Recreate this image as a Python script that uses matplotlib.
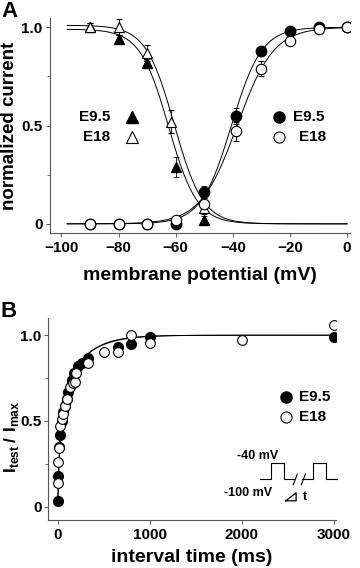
import numpy as np
import matplotlib
matplotlib.use('Agg')
import matplotlib.pyplot as plt

plt.rcParams['font.family'] = ['Liberation Sans', 'DejaVu Sans']
plt.rcParams['font.weight'] = 'bold'
plt.rcParams['mathtext.fontset'] = 'custom'
plt.rcParams['mathtext.rm'] = 'Liberation Sans'
plt.rcParams['mathtext.bf'] = 'Liberation Sans:bold'

# panel A: steady-state inactivation (triangles) and activation (circles)
inact_v_e95 = [-90, -80, -70, -60, -50]
inact_e95 = [1.0, 0.94, 0.82, 0.29, 0.02]
inact_err_e95 = [0.02, 0.02, 0.02, 0.05, 0.02]
inact_v_e18 = [-90, -80, -70, -61.5, -50]
inact_e18 = [1.0, 1.0, 0.87, 0.52, 0.08]
inact_err_e18 = [0.02, 0.04, 0.04, 0.06, 0.03]

act_v = [-90, -80, -70, -60, -50, -39, -30, -20, -10, 0]
act_e95 = [0.0, 0.0, 0.0, 0.0, 0.16, 0.55, 0.88, 0.98, 1.0, 1.0]
act_err_e95 = [0.01, 0.01, 0.01, 0.01, 0.03, 0.04, 0.02, 0.01, 0.01, 0.0]
act_e18 = [0.0, 0.0, 0.0, 0.02, 0.10, 0.47, 0.79, 0.93, 0.99, 1.0]
act_err_e18 = [0.01, 0.01, 0.01, 0.01, 0.03, 0.05, 0.04, 0.02, 0.01, 0.0]

# Boltzmann fit parameters: (amplitude, V1/2, slope)
fit_inact_e95 = (0.99, -62.5, 5.0)
fit_inact_e18 = (1.01, -60.5, 5.0)
fit_act_e95 = (1.0, -40.5, 5.3)
fit_act_e18 = (1.0, -38.5, 6.4)

# panel B: recovery from inactivation
rec_t_e95 = [0, 5, 15, 22, 40, 60, 76, 95, 113, 150, 180, 220, 260, 330, 650, 800, 1000, 3000]
rec_e95 = [0.03, 0.18, 0.35, 0.42, 0.50, 0.55, 0.59, 0.63, 0.67, 0.74, 0.78, 0.82, 0.84, 0.87, 0.93, 0.95, 0.99, 0.99]
rec_t_e18 = [0, 5, 10, 22, 40, 58, 80, 95, 130, 160, 185, 200, 330, 500, 650, 800, 1000, 2000, 3000]
rec_e18 = [0.14, 0.26, 0.34, 0.47, 0.51, 0.54, 0.59, 0.63, 0.70, 0.72, 0.73, 0.78, 0.84, 0.90, 0.90, 1.00, 0.955, 0.975, 1.06]

# double exponential fit parameters: (a1, tau1, a2, tau2)
fit_rec_e95 = (0.55, 30.0, 0.40, 250.0)
fit_rec_e18 = (0.50, 25.0, 0.45, 230.0)


def boltz(v, amp, vh, k, rising):
    s = 1 if rising else -1
    return amp / (1 + np.exp(-s * (v - vh) / k))


def recov(t, a1, t1, a2, t2):
    return 1 - a1 * np.exp(-t / t1) - a2 * np.exp(-t / t2)


fig = plt.figure(figsize=(3.6, 5.68), dpi=100)

# ---------- A ----------
ax = fig.add_axes([0.139, 0.590, 0.833, 0.378])
vv = np.linspace(-98, 0, 300)
for p in (fit_inact_e95, fit_inact_e18):
    ax.plot(vv, boltz(vv, *p, rising=False), color='black', lw=0.7, zorder=1)
for p in (fit_act_e95, fit_act_e18):
    ax.plot(vv, boltz(vv, *p, rising=True), color='black', lw=0.7, zorder=1)

ax.errorbar(inact_v_e95, inact_e95, yerr=inact_err_e95, fmt='^', ms=7.5, mfc='black', mec='black',
            ecolor='black', elinewidth=0.6, capsize=2, capthick=0.6, zorder=3)
ax.errorbar(inact_v_e18, inact_e18, yerr=inact_err_e18, fmt='^', ms=7.5, mfc='white', mec='black',
            mew=0.8, ecolor='black', elinewidth=0.6, capsize=2, capthick=0.6, zorder=4)
ax.errorbar(act_v, act_e95, yerr=act_err_e95, fmt='o', ms=7.5, mfc='black', mec='black',
            ecolor='black', elinewidth=0.6, capsize=2, capthick=0.6, zorder=3)
ax.errorbar(act_v, act_e18, yerr=act_err_e18, fmt='o', ms=7.5, mfc='white', mec='black',
            mew=0.8, ecolor='black', elinewidth=0.6, capsize=2, capthick=0.6, zorder=4)

ax.set_xlim(-104, 1)
ax.set_ylim(-0.046, 1.046)
ax.set_xticks([-100, -80, -60, -40, -20, 0])
ax.set_yticks([0, 0.5, 1.0])
ax.set_yticklabels(['0', '0.5', '1.0'])
ax.set_yticks([0.25, 0.75], minor=True)
ax.set_xlabel('membrane potential (mV)', fontsize=14, fontweight='bold', labelpad=9)
ax.set_ylabel('normalized current', fontsize=13.5, fontweight='bold', labelpad=2)

# in-plot legends
ax.text(0.20, 0.538, 'E9.5', transform=ax.transAxes, ha='right', va='center', fontsize=11, fontweight='bold')
ax.text(0.20, 0.445, 'E18', transform=ax.transAxes, ha='right', va='center', fontsize=11, fontweight='bold')
ax.plot([0.272], [0.538], '^', ms=8.5, mfc='black', mec='black', transform=ax.transAxes)
ax.plot([0.272], [0.445], '^', ms=8.5, mfc='white', mec='black', mew=0.8, transform=ax.transAxes)
ax.plot([0.764], [0.538], 'o', ms=8, mfc='black', mec='black', transform=ax.transAxes)
ax.plot([0.764], [0.445], 'o', ms=8, mfc='white', mec='black', mew=0.8, transform=ax.transAxes)
ax.text(0.81, 0.538, 'E9.5', transform=ax.transAxes, ha='left', va='center', fontsize=11, fontweight='bold')
ax.text(0.83, 0.445, 'E18', transform=ax.transAxes, ha='left', va='center', fontsize=11, fontweight='bold')

# ---------- B ----------
bx = fig.add_axes([0.133, 0.0845, 0.80, 0.3555])
tt = np.linspace(0, 3000, 1500)
for p in (fit_rec_e95, fit_rec_e18):
    bx.plot(tt, recov(tt, *p), color='black', lw=0.7, zorder=1)
bx.errorbar(rec_t_e95, rec_e95, yerr=0.02, fmt='o', ms=7, mfc='black', mec='black',
            ecolor='black', elinewidth=0.6, capsize=2, capthick=0.6, zorder=3)
bx.errorbar(rec_t_e18, rec_e18, yerr=0.02, fmt='o', ms=7, mfc='white', mec='black',
            mew=0.8, ecolor='black', elinewidth=0.6, capsize=2, capthick=0.6, zorder=4)

bx.set_xlim(-109, 3025)
bx.set_ylim(-0.078, 1.10)
bx.set_xticks([0, 1000, 2000, 3000])
bx.set_yticks([0, 0.5, 1.0])
bx.set_yticklabels(['0', '0.5', '1.0'])
bx.set_yticks([0.25, 0.75], minor=True)
bx.set_xlabel('interval time (ms)', fontsize=14, fontweight='bold', labelpad=5)
bx.set_ylabel(r'$\mathbf{I}_{\mathrm{test}}\,\mathbf{/\ I}_{\mathrm{max}}$', fontsize=12.5)
bx.yaxis.set_label_coords(-0.092, 0.41)

bx.plot([0.826], [0.607], 'o', ms=8, mfc='black', mec='black', transform=bx.transAxes)
bx.plot([0.826], [0.508], 'o', ms=8, mfc='white', mec='black', mew=0.8, transform=bx.transAxes)
bx.text(0.871, 0.607, 'E9.5', transform=bx.transAxes, ha='left', va='center', fontsize=11, fontweight='bold')
bx.text(0.871, 0.508, 'E18', transform=bx.transAxes, ha='left', va='center', fontsize=11, fontweight='bold')

# voltage protocol sketch
px = [0.736, 0.774, 0.774, 0.820, 0.820, 0.855]
py = [0.201, 0.201, 0.281, 0.281, 0.201, 0.201]
bx.plot(px, py, color='black', lw=0.8, transform=bx.transAxes, clip_on=False)
px2 = [0.884, 0.919, 0.919, 0.965, 0.965, 1.003]
bx.plot(px2, py, color='black', lw=0.8, transform=bx.transAxes, clip_on=False)
for x0 in (0.852, 0.880):
    bx.plot([x0, x0 + 0.014], [0.175, 0.227], color='black', lw=0.8, transform=bx.transAxes)
bx.text(0.80, 0.318, '-40 mV', transform=bx.transAxes, ha='right', va='center', fontsize=9, fontweight='bold')
bx.text(0.78, 0.135, '-100 mV', transform=bx.transAxes, ha='right', va='center', fontsize=9, fontweight='bold')
bx.plot([0.826, 0.862, 0.862, 0.826], [0.095, 0.135, 0.095, 0.095], color='black', lw=0.9,
        transform=bx.transAxes)
bx.text(0.885, 0.115, 't', transform=bx.transAxes, ha='left', va='center', fontsize=9, fontweight='bold')

for a in (ax, bx):
    a.spines['top'].set_visible(False)
    a.spines['right'].set_visible(False)
    a.spines['left'].set_color('#555555')
    a.spines['bottom'].set_color('#555555')
    a.tick_params(axis='both', which='major', labelsize=11, length=3, width=0.7, colors='#555555',
                  labelcolor='black', pad=2.5)
    a.tick_params(axis='y', which='minor', length=2, width=0.6, colors='#555555')
    for lab in a.get_xticklabels() + a.get_yticklabels():
        lab.set_fontweight('bold')
bx.tick_params(axis='y', which='major', pad=1.5)

fig.text(0.005, 0.998, 'A', ha='left', va='top', fontsize=16, fontweight='bold')
fig.text(0.0, 0.470, 'B', ha='left', va='top', fontsize=16, fontweight='bold')

fig.savefig('out.png', dpi=100)
